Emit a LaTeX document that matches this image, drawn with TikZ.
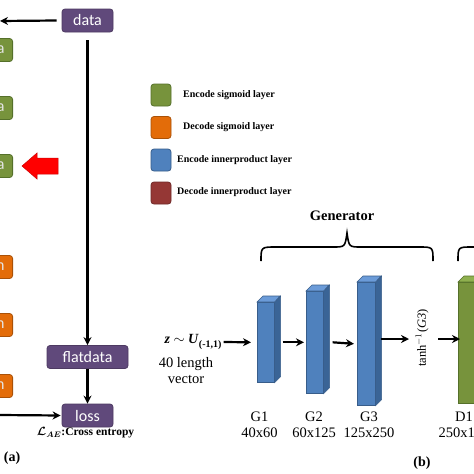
\documentclass[tikz,border=0pt]{standalone}
\usepackage{amsmath}
\usepackage{fontspec}
\setmainfont{Liberation Serif}
\newfontfamily\carl{Carlito}
\usetikzlibrary{arrows.meta,calc}
\definecolor{purp}{HTML}{60497B}
\definecolor{cgreen}{HTML}{77933C}
\definecolor{corange}{HTML}{E36C09}
\definecolor{cblue}{HTML}{4F81BD}
\definecolor{cred}{HTML}{953735}
\definecolor{bside}{HTML}{3A6496}
\definecolor{btop}{HTML}{6B9BD8}
\definecolor{bedge}{HTML}{385D8A}
\definecolor{gside}{HTML}{5E7530}
\definecolor{gtop}{HTML}{8FB04F}
\definecolor{gedge}{HTML}{55702A}
\newcommand\losstext{$\boldsymbol{\mathcal{L}}_{\boldsymbol{AE}}$\textbf{:Cross entropy}}
\newcommand\ztext{\textbf{\textit{z}} $\sim$ \textbf{\textit{U}}\raisebox{-4pt}{\fontsize{10}{10}\selectfont\bfseries ({-}1,1)}}
\tikzset{
  pbox/.style={fill=purp, draw=purp!80!black, rounded corners=3pt, text=white, font=\carl\fontsize{16}{16}\selectfont, inner sep=0pt, minimum height=23pt, line width=0.8pt},
  lbox/.style={rounded corners=3pt, text=white!90!black, font=\carl\fontsize{16}{16}\selectfont, text width=30pt, align=right, inner xsep=8pt, inner ysep=0pt, minimum height=23pt, anchor=east, line width=0.8pt},
  lg/.style={lbox, fill=cgreen, draw=gedge},
  lo/.style={lbox, fill=corange, draw=corange!75!black},
  leg/.style={rounded corners=3pt, minimum width=20pt, minimum height=22pt, inner sep=0pt, line width=0.8pt},
  legtext/.style={font=\bfseries\fontsize{10}{10}\selectfont, anchor=west, inner sep=0pt},
  arr/.style={line width=2.2pt, arrows={-Stealth[length=8pt,width=8pt]}},
  lab/.style={font=\fontsize{14.5}{16}\selectfont, align=center},
  lossfont/.style={font=\fontsize{11.5}{12}\selectfont, inner sep=0pt},
}
\newcommand\prism[4]{%
  \node[draw=bedge, fill=cblue, minimum width=#4pt, minimum height=#3pt, anchor=north west, inner sep=0pt, line width=0.6pt] (#1) at (#2) {};
  \filldraw[fill=bside, draw=bedge, line width=0.6pt] (#1.north east) -- ++(6,-6) -- ($(#1.south east)+(6,-6)$) -- (#1.south east) -- cycle;
  \filldraw[fill=btop, draw=bedge, line width=0.6pt] (#1.north west) -- ++(6,-6) -- ++(#4,0) -- (#1.north east) -- cycle;
}
\begin{document}
\begin{tikzpicture}[x=1pt,y=-1pt]
\useasboundingbox (0,0) rectangle (474,474);
\clip (0,0) rectangle (474,474);
\fill[white] (0,0) rectangle (474,474);

% ---- part (a) ----
\node[lg] (l1) at (13,50) {a};
\node[lg] (l2) at (13,108) {a};
\node[lg] (l3) at (13,166) {a};
\node[lo] (l4) at (13,267) {n};
\node[lo] (l5) at (13,325) {n};
\node[lo] (l6) at (13,386) {n};

\filldraw[fill=red, draw=red!80!black, line width=0.5pt]
  (22,166) -- (37,153) -- (37,158) -- (58,158) -- (58,174) -- (37,174) -- (37,179) -- cycle;

\node[pbox, minimum width=51pt] (data) at (87.5,20.5) {data};
\node[pbox, minimum width=81pt] (flatdata) at (87.5,357) {flatdata};
\node[pbox, minimum width=51pt] (loss) at (87.5,415.5) {loss};

\coordinate (dl) at (0,21);
\coordinate (ll) at (0,415);
\draw[arr] ([xshift=-5pt]data.west) -- (dl);
\draw[arr] ([yshift=-8pt]data.south) -- (flatdata.north);
\draw[arr] (flatdata.south) -- (loss.north);
\draw[arr] (ll) -- ([xshift=-1pt]loss.west);

\node[lossfont] (lossl) at (85.5,433) {\losstext};
\node[font=\bfseries\fontsize{14}{14}\selectfont] (pa) at (12,458) {(a)};

% ---- legend ----
\node[leg, fill=cgreen, draw=gedge] (k1) at (161,95) {};
\node[leg, fill=corange, draw=corange!75!black] (k2) at (161,127.5) {};
\node[leg, fill=cblue, draw=bedge] (k3) at (161,160) {};
\node[leg, fill=cred, draw=cred!75!black] (k4) at (161,193) {};
\node[legtext] (t1) at (183,95) {Encode sigmoid layer};
\node[legtext] (t2) at (183,127.5) {Decode sigmoid layer};
\node[legtext] (t3) at (177,160) {Encode innerproduct layer};
\node[legtext] (t4) at (177,192) {Decode innerproduct layer};

% ---- part (b) ----
\node[font=\bfseries\fontsize{14.5}{15}\selectfont] (gen) at (342,216) {Generator};
\draw[line width=1.6pt] (261,261) .. controls (261,247) .. (276,247) -- (333,247)
  .. controls (345,247) .. (347,233) .. controls (349,247) .. (361,247) -- (419,247)
  .. controls (433,247) .. (433,261);
\draw[line width=1.6pt] (458,261) .. controls (458,247) .. (472,247) -- (480,247);

\prism{g1}{257,302}{80}{17}
\prism{g2}{306,291}{102}{17}
\prism{g3}{357,282}{123}{18}

\node[draw=gedge, fill=cgreen, minimum width=60pt, minimum height=121pt, anchor=north west, inner sep=0pt, line width=0.6pt] (d1) at (458,282) {};
\filldraw[fill=gtop, draw=gedge, line width=0.6pt] (d1.north west) -- ++(6,-6) -- ++(60,0) -- (d1.north east) -- cycle;

\node[font=\fontsize{14}{14}\selectfont, inner sep=0pt] (z) at (193,342) {\ztext};
\node[lab] (zl) at (186,371) {40 length\\vector};

\node[rotate=90, font=\fontsize{12.5}{13}\selectfont, inner sep=0pt] (tanh) at (422,338) {tanh$^{-1}$(\textit{G3})};

\draw[arr] ([xshift=2pt]z.east) -- ([xshift=-6pt]g1.west);
\draw[arr] ([xshift=8pt]g1.east) -- ([xshift=-2pt]g2.west);
\draw[arr] ([xshift=9pt]g2.east) -- ([xshift=-3pt]g3.west);
\draw[arr] ([xshift=5pt]g3.east |- 0,339) -- ([xshift=-13pt]tanh.center |- 0,339);
\draw[arr] ([xshift=16pt]tanh.center |- 0,339) -- ([xshift=2pt]d1.west |- 0,339);

\node[lab] (g1l) at (259.5,425) {G1\\40x60};
\node[lab] (g2l) at (314,425) {G2\\60x125};
\node[lab] (g3l) at (369,425) {G3\\125x250};
\node[lab] (d1l) at (464,425) {D1\\250x125};
\node[font=\bfseries\fontsize{14}{14}\selectfont] (pb) at (422,463) {(b)};
\end{tikzpicture}
\end{document}
